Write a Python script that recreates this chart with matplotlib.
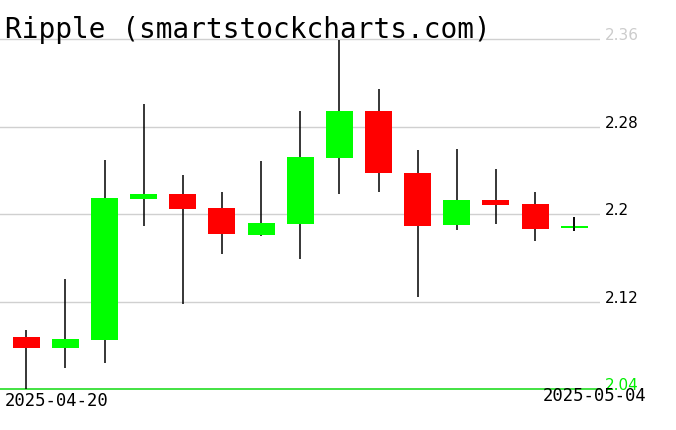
import matplotlib
matplotlib.use("Agg")
import matplotlib.pyplot as plt
from matplotlib.transforms import blended_transform_factory

dates = ["2025-04-20", "2025-04-21", "2025-04-22", "2025-04-23", "2025-04-24",
         "2025-04-25", "2025-04-26", "2025-04-27", "2025-04-28", "2025-04-29",
         "2025-04-30", "2025-05-01", "2025-05-02", "2025-05-03", "2025-05-04"]
opens  = [2.0875, 2.0777, 2.0850, 2.2139, 2.2183, 2.2055, 2.1810, 2.1911,
          2.2514, 2.2940, 2.2375, 2.1902, 2.2128, 2.2091, 2.1874]
closes = [2.0777, 2.0857, 2.2146, 2.2183, 2.2048, 2.1820, 2.1917, 2.2520,
          2.2940, 2.2377, 2.1893, 2.2128, 2.2082, 2.1865, 2.1883]
highs  = [2.0940, 2.1406, 2.2493, 2.3006, 2.2356, 2.2200, 2.2484, 2.2942,
          2.3594, 2.3143, 2.2585, 2.2594, 2.2411, 2.2200, 2.1972]
lows   = [2.0400, 2.0595, 2.0640, 2.1893, 2.1180, 2.1637, 2.1800, 2.1591,
          2.2185, 2.2203, 2.1244, 2.1856, 2.1911, 2.1756, 2.1847]
y_ticks = [2.04, 2.12, 2.2, 2.28, 2.36]
y_tick_labels = ["2.04", "2.12", "2.2", "2.28", "2.36"]
y_tick_colors = ["#00ee00", "black", "black", "black", "#cccccc"]
title = "Ripple (smartstockcharts.com)"

W, H = 676, 431
fig = plt.figure(figsize=(W / 100, H / 100), dpi=100)
ax = fig.add_axes([0, 41 / H, 600 / W, 390 / H])
ax.set_xlim(-0.672, 14.66)
ax.set_ylim(2.04, 2.3966)
ax.axis("off")

# grid lines
for v, c in zip(y_ticks, y_tick_colors):
    if v == y_ticks[0]:
        ax.axhline(v, color="#22dd22", lw=1.2, zorder=1, clip_on=False)
    else:
        ax.axhline(v, color="#d0d0d0", lw=1.0, zorder=1)

# candles
bw = 0.69
for i in range(len(dates)):
    o, c, h, l = opens[i], closes[i], highs[i], lows[i]
    col = "#00ff00" if c >= o else "#ff0000"
    top, bot = max(o, c), min(o, c)
    ax.vlines(i, top, h, color="black", lw=1.1, zorder=2)
    ax.vlines(i, l, bot, color="black", lw=1.1, zorder=2)
    hgt = max(top - bot, 0.0018)
    ax.bar(i, hgt, bottom=bot if top - bot > 0.0018 else (top + bot) / 2 - 0.0009,
           width=bw, color=col, edgecolor="none", zorder=3)
    if top - bot < 0.002:
        ax.vlines(i, l, h, color="black", lw=1.1, zorder=4)

# y labels on right
tr = blended_transform_factory(fig.transFigure, ax.transData)
for v, lab, c in zip(y_ticks, y_tick_labels, y_tick_colors):
    ax.text(605 / W, v, lab, transform=tr, ha="left", va="baseline",
            fontsize=11, color=c, clip_on=False)

# date labels
fig.text(5 / W, 1 - 406 / H, dates[0], ha="left", va="baseline",
         fontsize=12.4, family="DejaVu Sans Mono", color="black")
fig.text(646 / W, 1 - 401 / H, dates[-1], ha="right", va="baseline",
         fontsize=12.4, family="DejaVu Sans Mono", color="black")

# title
fig.text(5 / W, 1 - 38 / H, title, ha="left", va="baseline",
         fontsize=20, family="DejaVu Sans Mono", color="black")

fig.savefig("out.png", dpi=100, facecolor="white")
